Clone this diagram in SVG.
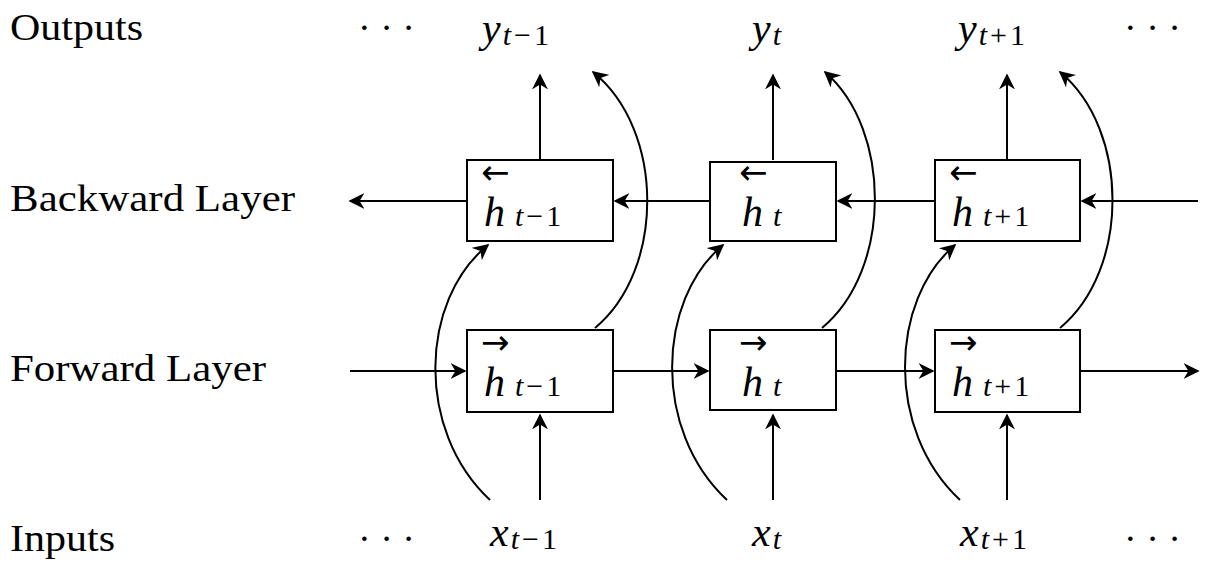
<svg xmlns="http://www.w3.org/2000/svg" width="1216" height="574" viewBox="0 0 1216 574">
<defs>
<marker id="b" viewBox="0 0 10 10" refX="9" refY="5" markerWidth="16" markerHeight="16" orient="auto" markerUnits="userSpaceOnUse"><path d="M0,0 L10,5 L0,10 L3,5 z" fill="#000"/></marker>
</defs>
<style>
text{font-family:"Liberation Serif","DejaVu Serif",serif;fill:#000}
.lab{font-size:38px}
.m{font-style:italic;font-size:42px}
.s{font-style:italic;font-size:30px;letter-spacing:3px}
.n{font-style:normal}
.box{fill:#fff;stroke:#000;stroke-width:2}
.c path{fill:none;stroke:#000;stroke-width:2;marker-end:url(#b)}
.ar{font-family:"DejaVu Sans",sans-serif;font-size:34px}
</style>
<rect width="1216" height="574" fill="#fff"/>
<g id="labels">
<text class="lab" x="10" y="40" textLength="133" lengthAdjust="spacingAndGlyphs">Outputs</text>
<text class="lab" x="10" y="211" textLength="285" lengthAdjust="spacingAndGlyphs">Backward Layer</text>
<text class="lab" x="10" y="381" textLength="256" lengthAdjust="spacingAndGlyphs">Forward Layer</text>
<text class="lab" x="10" y="551" textLength="105" lengthAdjust="spacingAndGlyphs">Inputs</text>
<text class="lab" x="358" y="40">· · ·</text>
<text class="lab" x="1124" y="40">· · ·</text>
<text class="lab" x="358" y="551">· · ·</text>
<text class="lab" x="1124" y="551">· · ·</text>
</g>
<g id="outputs">
<text class="m" x="482" y="42">y<tspan class="s" dy="3" dx="2">t<tspan class="n">−1</tspan></tspan></text>
<text class="m" x="752" y="42">y<tspan class="s" dy="3" dx="2">t</tspan></text>
<text class="m" x="958" y="42">y<tspan class="s" dy="3" dx="2">t<tspan class="n">+1</tspan></tspan></text>
</g>
<g id="inputs">
<text class="m" x="490" y="546">x<tspan class="s" dy="3" dx="2">t<tspan class="n">−1</tspan></tspan></text>
<text class="m" x="752" y="546">x<tspan class="s" dy="3" dx="2">t</tspan></text>
<text class="m" x="960" y="546">x<tspan class="s" dy="3" dx="2">t<tspan class="n">+1</tspan></tspan></text>
</g>
<g id="connectors" class="c">
<path d="M540,160 V75"/><path d="M773,160 V75"/><path d="M1007,160 V75"/>
<path d="M540,500 V415"/><path d="M773,500 V415"/><path d="M1007,500 V415"/>
<path d="M1198,201 H1082"/><path d="M935,201 H838"/><path d="M710,201 H615"/><path d="M467,201 H350"/>
<path d="M350,371 H465"/><path d="M613,371 H708"/><path d="M836,371 H933"/><path d="M1080,371 H1198"/>
<path d="M490,500 C415,430 420,300 488,245"/>
<path d="M727,500 C652,430 657,300 723,245"/>
<path d="M960,500 C885,430 890,300 955,245"/>
<path d="M595,328 C665,270 665,130 593,72"/>
<path d="M822,328 C892,270 892,130 825,72"/>
<path d="M1060,328 C1130,270 1130,130 1060,72"/>
</g>
<g id="hb1"><rect class="box" x="467" y="160" width="146" height="81"/><text class="ar" x="481" y="184">←</text><text class="m" x="484" y="226">h<tspan class="s" dx="10">t<tspan class="n">−1</tspan></tspan></text></g>
<g id="hb2"><rect class="box" x="710" y="162" width="126" height="79"/><text class="ar" x="739" y="184">←</text><text class="m" x="742" y="226">h<tspan class="s" dx="10">t</tspan></text></g>
<g id="hb3"><rect class="box" x="935" y="160" width="145" height="81"/><text class="ar" x="949" y="184">←</text><text class="m" x="952" y="226">h<tspan class="s" dx="10">t<tspan class="n">+1</tspan></tspan></text></g>
<g id="hf1"><rect class="box" x="467" y="330" width="146" height="82"/><text class="ar" x="481" y="354">→</text><text class="m" x="484" y="396">h<tspan class="s" dx="10">t<tspan class="n">−1</tspan></tspan></text></g>
<g id="hf2"><rect class="box" x="710" y="330" width="126" height="80"/><text class="ar" x="739" y="354">→</text><text class="m" x="742" y="396">h<tspan class="s" dx="10">t</tspan></text></g>
<g id="hf3"><rect class="box" x="935" y="330" width="145" height="82"/><text class="ar" x="949" y="354">→</text><text class="m" x="952" y="396">h<tspan class="s" dx="10">t<tspan class="n">+1</tspan></tspan></text></g>
</svg>
